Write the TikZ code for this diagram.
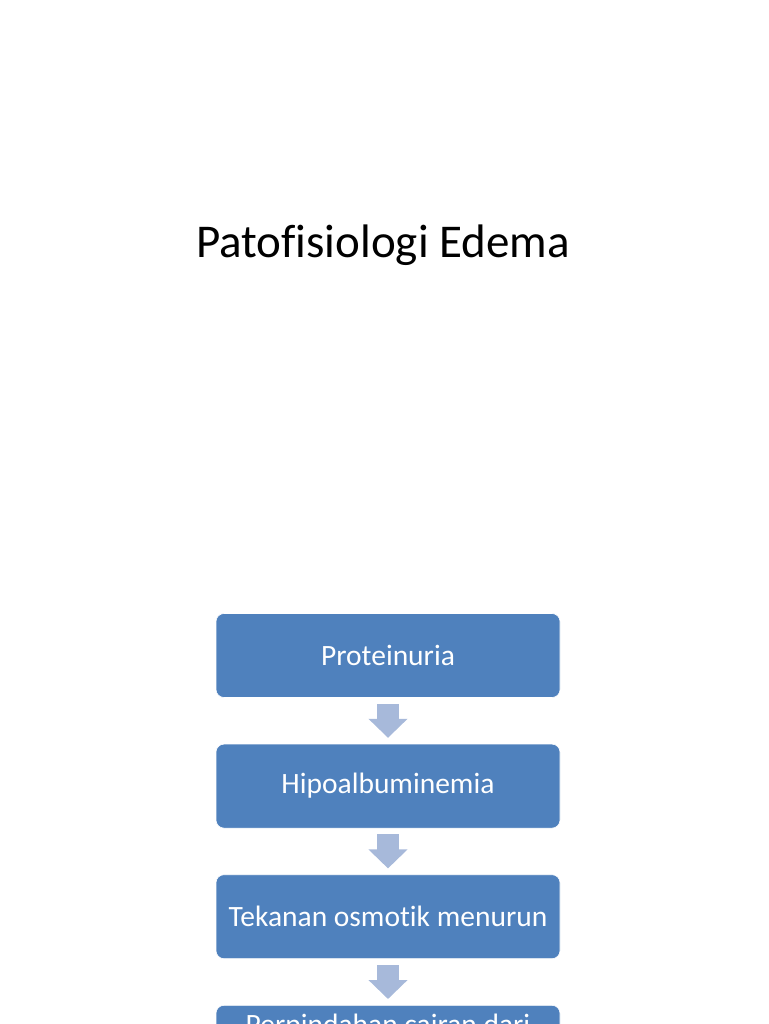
\documentclass[tikz,border=0pt]{standalone}
\usepackage{fontspec}
\setmainfont{Carlito}[Ligatures={NoCommon}]
\usetikzlibrary{positioning,arrows.meta}
\definecolor{boxblue}{HTML}{4F81BD}
\definecolor{arrowblue}{HTML}{A7B9DA}
\tikzset{
  stepbox/.style={rectangle, rounded corners=8pt, fill=boxblue, draw=white, line width=0.6pt,
    minimum width=344pt, minimum height=84pt, text=white, align=center,
    font=\fontsize{29.5}{36}\selectfont},
  flowarrow/.style={draw=arrowblue, line width=22pt,
    -{Triangle[width=38pt,length=19pt,fill=arrowblue]}}
}
\begin{document}
\begin{tikzpicture}[x=1pt, y=-1pt]
\useasboundingbox (0,0) rectangle (768,1024);
\clip (0,0) rectangle (768,1024);

\node[font=\fontsize{47}{56}\selectfont, anchor=base] (title) at (383, 257) {Patofisiologi Edema};

\node[stepbox] (prot) at (388, 655.5) {Proteinuria};
\node[stepbox, below=46pt of prot] (hipo) {Hipoalbuminemia};
\node[stepbox, below=46pt of hipo] (teka) {Tekanan osmotik menurun};
\node[stepbox, below=46pt of teka] (perp) {Perpindahan cairan dari\\\strut};

\draw[flowarrow] ([yshift=-6pt]prot.south) -- ([yshift=6pt]hipo.north);
\draw[flowarrow] ([yshift=-6pt]hipo.south) -- ([yshift=6pt]teka.north);
\draw[flowarrow] ([yshift=-6pt]teka.south) -- ([yshift=6pt]perp.north);
\end{tikzpicture}
\end{document}
